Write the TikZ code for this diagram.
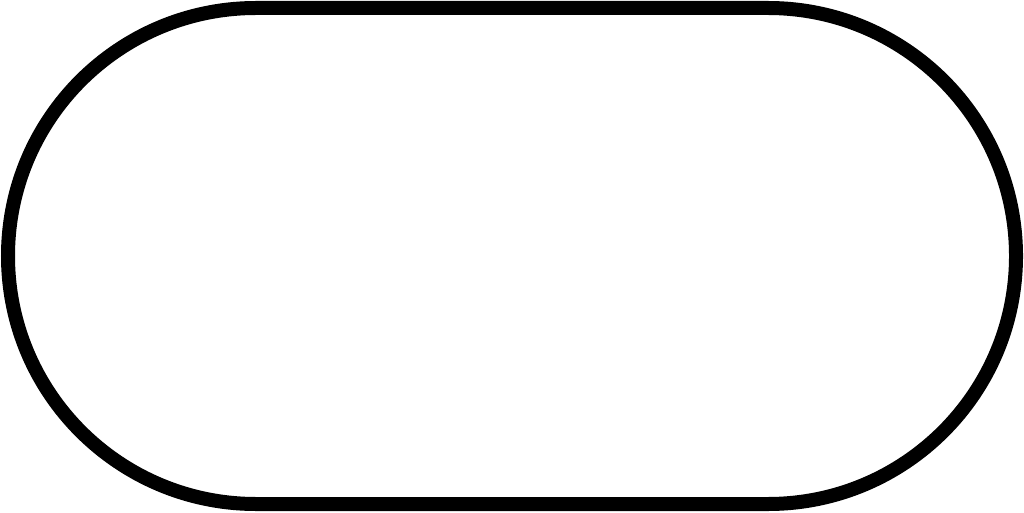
\documentclass[tikz,border=0pt]{standalone}
\begin{document}
\begin{tikzpicture}[x=1pt,y=1pt,stadium/.style={draw=black,line width=14pt,fill=white}]
\useasboundingbox (0,0) rectangle (1024,512);
\draw[stadium] (256,8) -- (768,8) arc[start angle=-90,end angle=90,radius=248] -- (256,504) arc[start angle=90,end angle=270,radius=248] -- cycle;
\end{tikzpicture}
\end{document}
